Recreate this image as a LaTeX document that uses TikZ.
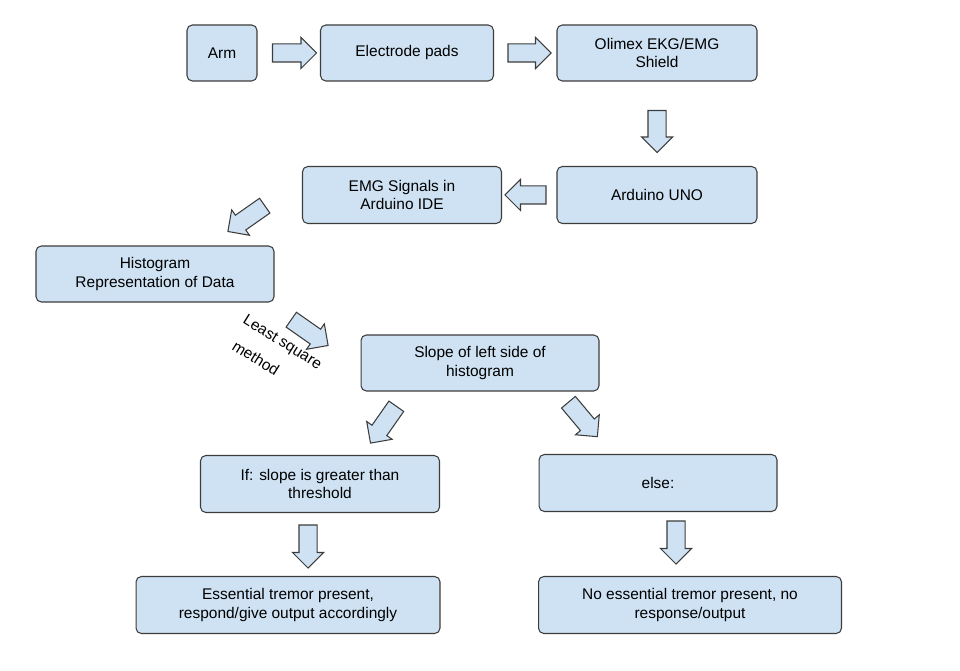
\documentclass[tikz,border=0pt]{standalone}
\usepackage{fontspec}
\setmainfont{Liberation Sans}
\usetikzlibrary{shapes.arrows}
\definecolor{boxfill}{HTML}{CFE2F3}
\definecolor{boxline}{HTML}{3C3C3C}
\begin{document}
\begin{tikzpicture}[x=0.02cm,y=-0.02cm,
  box/.style={draw=boxline,fill=boxfill,rounded corners=3pt,line width=0.6pt,align=center,font=\fontsize{8.8pt}{10.6pt}\selectfont,inner sep=0pt},
  blk/.style={single arrow,draw=boxline,fill=boxfill,line width=0.6pt,single arrow head extend=0.13cm,minimum height=#1,inner sep=0pt},
  lbl/.style={rotate=-32,inner sep=0pt,font=\fontsize{8.8pt}{10.6pt}\selectfont}]
\newcommand{\shaft}{\rule{0pt}{0.34cm}}
\useasboundingbox (0,0) rectangle (960,671);
\node[box,minimum width=1.4cm,minimum height=1.12cm] (arm) at (222,53) {Arm};
\node[box,minimum width=3.46cm,minimum height=1.12cm] (pads) at (407,53) {Electrode pads};
\node[box,minimum width=4cm,minimum height=1.12cm] (oli) at (657,53) {Olimex EKG/EMG\\Shield};
\node[box,minimum width=4cm,minimum height=1.14cm] (uno) at (657,195) {Arduino UNO};
\node[box,minimum width=3.98cm,minimum height=1.14cm] (emg) at (402,195) {EMG Signals in\\Arduino IDE};
\node[box,minimum width=4.76cm,minimum height=1.12cm] (hist) at (155,274) {Histogram\\Representation of Data};
\node[box,minimum width=4.76cm,minimum height=1.12cm] (slope) at (480,363) {Slope of left side of\\histogram};
\node[box,minimum width=4.78cm,minimum height=1.14cm] (if) at (320,484) {If: slope is greater than\\threshold};
\node[box,minimum width=4.76cm,minimum height=1.14cm] (else) at (658,483) {else:};
\node[box,minimum width=6.08cm,minimum height=1.14cm] (ess) at (288,605) {Essential tremor present,\\respond/give output accordingly};
\node[box,minimum width=6.06cm,minimum height=1.14cm] (no) at (690,605) {No essential tremor present, no\\response/output};
\node[blk=0.88cm] (a1) at (290,53) {\shaft};
\node[blk=0.86cm] (a2) at (525,53) {\shaft};
\node[blk=0.84cm,rotate=-90] (a3) at (657,127) {\shaft};
\node[blk=0.82cm,rotate=180] (a4) at (530,195) {\shaft};
\node[blk=0.9cm,rotate=-145] (a5) at (250,216) {\shaft};
\node[blk=0.9cm,rotate=-35] (a6) at (306,330) {\shaft};
\node[blk=0.9cm,rotate=-125] (a7) at (386,421) {\shaft};
\node[blk=0.9cm,rotate=-50] (a8) at (580,416) {\shaft};
\node[blk=0.86cm,rotate=-90] (a9) at (308,542) {\shaft};
\node[blk=0.86cm,rotate=-90] (a10) at (676,538) {\shaft};
\node[lbl] (lsm1) at (282,343) {Least square};
\node[lbl] (lsm2) at (256,358) {method};
\end{tikzpicture}
\end{document}
